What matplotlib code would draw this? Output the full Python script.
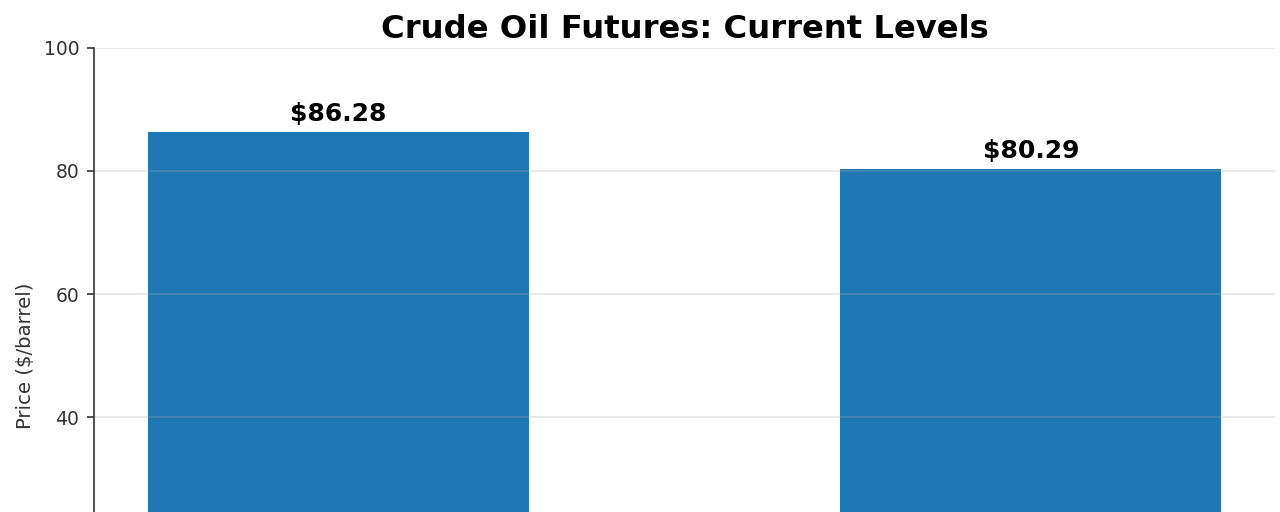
import matplotlib.pyplot as plt
import numpy as np

# crude benchmarks, current price per barrel
benchmarks = ['Brent', 'WTI']
prices = [86.28, 80.29]
y_ticks = [40, 60, 80, 100]

fig = plt.figure(figsize=(1280 / 150, 512 / 150), dpi=150)
# the view is cropped at the bottom, so the axes runs past the lower edge
ax = fig.add_axes([0.0734, -0.295, 0.9227, 1.2013])

x = np.arange(len(benchmarks))
bars = ax.bar(x, prices, width=0.55, color='#1f77b4')

for rect, p in zip(bars, prices):
    ax.text(rect.get_x() + rect.get_width() / 2, p + 1, f'${p:.2f}',
            ha='center', va='bottom', fontsize=12, fontweight='bold')

ax.set_ylim(0, 100)
ax.set_yticks(y_ticks)
ax.set_xticks(x)
# category labels sit below the cropped edge, not visible
ax.tick_params(axis='x', labelbottom=False)
ax.set_ylabel('Price ($/barrel)', fontsize=9.5, color='#333333')
ax.set_title('Crude Oil Futures: Current Levels', fontsize=15.5, fontweight='bold', pad=5)
ax.tick_params(axis='y', labelsize=9, colors='#333333')
ax.grid(axis='y', alpha=0.3)
ax.spines['top'].set_visible(False)
ax.spines['right'].set_visible(False)
ax.spines['left'].set_color('#333333')

fig.savefig('out.png', dpi=150)
